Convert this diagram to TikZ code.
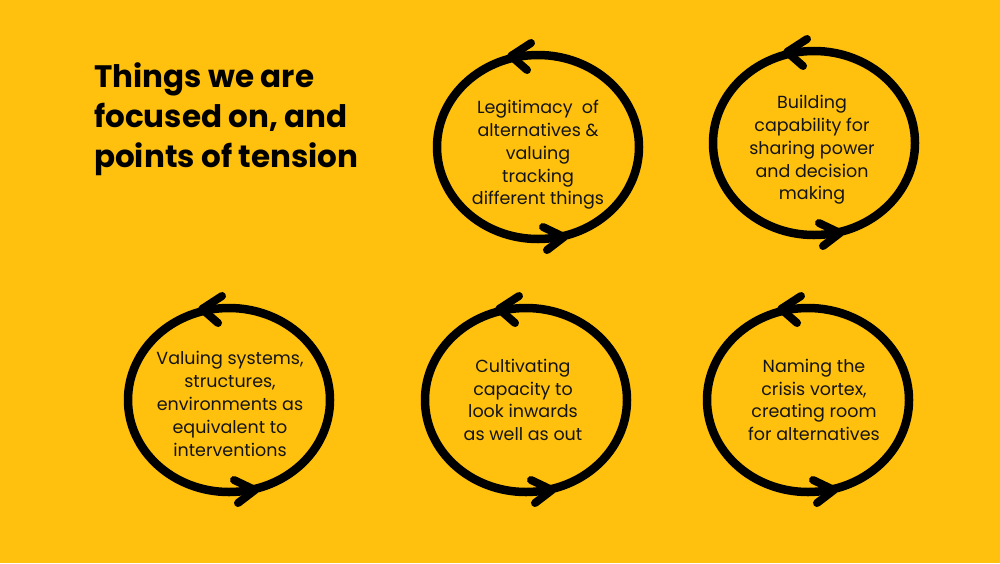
\documentclass[tikz,border=0pt]{standalone}
\usepackage{fontspec}
\setmainfont{Poppins}
\usetikzlibrary{shapes.geometric}
\definecolor{bg}{RGB}{255,193,14}
\definecolor{ink}{RGB}{20,20,20}
\tikzset{
  x=1pt, y=-1pt,
  cyc/.style={ellipse, draw=black, line width=8.5pt, minimum width=202pt, minimum height=184pt, inner sep=0pt},
  lbl/.style={align=center, text=ink, inner sep=0pt, font=\fontsize{17.5}{22.8}\selectfont},
  chev/.style={draw=black, line width=8pt, line cap=round, line join=round},
  title/.style={anchor=north west, align=left, text=black, inner sep=0pt, font=\fontsize{31}{40}\selectfont\bfseries}
}
\newcommand\arrowsof[1]{%
  \draw[chev] ([shift={(-7,-104)}]#1.center) -- ([shift={(-27,-91)}]#1.center) -- ([shift={(-11,-77)}]#1.center);
  \draw[chev] ([shift={(5,80)}]#1.center) -- ([shift={(26,90)}]#1.center) -- ([shift={(9,103)}]#1.center);
}
\begin{document}
\begin{tikzpicture}
\fill[bg] (0,0) rectangle (1000,563);
\useasboundingbox (0,0) rectangle (1000,563);
\node[title] (t) at (94,62) {Things we are\\focused on, and\\points of tension};
\node[cyc] (c1) at (538,147) {};
\node[cyc] (c2) at (814,143) {};
\node[cyc] (c3) at (229,400) {};
\node[cyc] (c4) at (526,400) {};
\node[cyc] (c5) at (808,400) {};
\node[lbl] (l1) at (538,155) {Legitimacy\ \ of\\alternatives \&\\valuing\\tracking\\different things};
\node[lbl] (l2) at (812,150) {Building\\capability for\\sharing power\\and decision\\making};
\node[lbl] (l3) at (230,404) {Valuing systems,\\structures,\\environments as\\equivalent to\\interventions};
\node[lbl] (l4) at (523,400) {Cultivating\\capacity to\\look inwards\\as well as out};
\node[lbl] (l5) at (814,400) {Naming the\\crisis vortex,\\creating room\\for alternatives};
\arrowsof{c1}
\arrowsof{c2}
\arrowsof{c3}
\arrowsof{c4}
\arrowsof{c5}
\end{tikzpicture}
\end{document}
